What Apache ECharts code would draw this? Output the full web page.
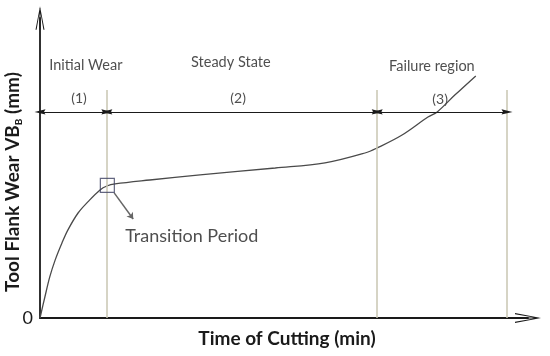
<!DOCTYPE html>
<html>
<head>
<meta charset="utf-8">
<script src="https://cdn.jsdelivr.net/npm/echarts@6/dist/echarts.min.js"></script>
<style>
html,body{margin:0;padding:0;background:#fff;}
#chart{width:550px;height:356px;}
</style>
</head>
<body>
<div id="chart"></div>
<script>
// ---- data ----
const curveTime = [0, 1.0, 2.0, 3.1, 4.5, 5.7, 7.8, 9.8, 12.3, 13.7, 15.4, 22.5, 32.8, 48.2, 58.4, 66.6, 69.1, 74.2, 79.5, 81.4, 85.0, 89.3];
const curveWear = [0, 7.0, 13.7, 19.3, 25.0, 29.3, 35.0, 38.7, 42.7, 44.0, 44.7, 46.0, 47.7, 50.0, 51.7, 55.0, 56.7, 61.0, 67.0, 68.7, 74.3, 80.7];
const regionBounds = [0, 13.7, 69.1, 95.7];
const boundTop = 76;
const arrowLevel = 68.7;
const regionNames = ['Initial Wear', 'Steady State', 'Failure region'];
const regionNameX = [9.4, 39.1, 80.3];
const regionNameY = [84.3, 85.3, 84.0];
const regionTags = ['(1)', '(2)', '(3)'];
const regionTagX = [8.0, 40.6, 82.0];
const regionTagY = [73.3, 73.3, 73.0];
const transitionPoint = [13.8, 44.2];
const transitionArrowFrom = [15.2, 41.7];
const transitionArrowTo = [19.1, 33.0];
const transitionLabel = 'Transition Period';
const transitionLabelPos = [31.1, 27.3];
const yTickLabels = ['0'];

const FONT = 'Lato';
const chevron = 'path://M5,0 L10,26 L8.8,26 L5,4 L1.2,26 L0,26 Z M4.4,2 L5.6,2 L5.6,26 L4.4,26 Z';
// slim filled arrowhead, padded to a square box so it keeps its slender shape
const slimArrow = 'path://M5,0 L7.3,10 L5,8.6 L2.7,10 Z M0,10 L0,10 M10,10 L10,10 M0,0 L0,0';

const chart = echarts.init(document.getElementById('chart'), null, {renderer: 'canvas'});

const boundaryLines = regionBounds.slice(1).map(x => [
  {coord: [x, 0]}, {coord: [x, boundTop]}
]);
const arrowLines = regionBounds.slice(0, -1).map((x, i) => [
  {coord: [x, arrowLevel]}, {coord: [regionBounds[i + 1], arrowLevel]}
]);

const textPoints = [];
regionNames.forEach((t, i) => textPoints.push({value: [regionNameX[i], regionNameY[i]], name: t, label: {fontSize: 14.5}}));
regionTags.forEach((t, i) => textPoints.push({value: [regionTagX[i], regionTagY[i]], name: t, label: {fontSize: 14}}));
textPoints.push({value: transitionLabelPos, name: transitionLabel, label: {fontSize: 18}});

chart.setOption({
  animation: false,
  backgroundColor: '#fff',
  grid: {left: 40, right: 22, top: 18, bottom: 38, containLabel: false, outerBoundsMode: 'none'},
  xAxis: {
    type: 'value', min: 0, max: 100,
    name: 'Time of Cutting (min)', nameLocation: 'middle', nameGap: 11, nameMoveOverlap: false,
    nameTextStyle: {fontFamily: FONT, fontWeight: 'bold', fontSize: 19, color: '#1a1a1a', padding: [0, 0, 0, 6]},
    axisLine: {show: true, symbol: ['none', chevron], symbolSize: [10, 27], lineStyle: {color: '#1a1a1a', width: 1.8}},
    axisTick: {show: false}, axisLabel: {show: false}, splitLine: {show: false}
  },
  yAxis: {
    type: 'value', min: 0, max: 100, interval: 100,
    name: '{n|Tool Flank Wear VB}{s|B}{n| (mm)}', nameLocation: 'middle', nameGap: 16, nameRotate: 90,
    nameMoveOverlap: false,
    nameTextStyle: {
      padding: [0, 28, 0, 0],
      rich: {
        n: {fontFamily: FONT, fontWeight: 'bold', fontSize: 19, color: '#1a1a1a', lineHeight: 22},
        s: {fontFamily: FONT, fontWeight: 'bold', fontSize: 10, color: '#1a1a1a', lineHeight: 14, verticalAlign: 'bottom'}
      }
    },
    axisLine: {show: true, symbol: ['none', chevron], symbolSize: [9, 26], lineStyle: {color: '#1a1a1a', width: 1.8}},
    axisTick: {show: false},
    axisLabel: {
      show: true, fontFamily: FONT, fontSize: 18, color: '#1a1a1a', margin: 7, padding: [14, 0, 0, 0],
      formatter: v => (v === 0 ? yTickLabels[0] : '')
    },
    splitLine: {show: false}
  },
  series: [
    {
      type: 'line', name: 'wear', silent: true,
      data: curveTime.map((t, i) => [t, curveWear[i]]),
      smooth: 0.35, showSymbol: false,
      lineStyle: {color: '#4a4a4a', width: 1.3},
      z: 3
    },
    {
      type: 'scatter', name: 'annotations', silent: true,
      data: textPoints,
      symbolSize: 1,
      itemStyle: {color: 'rgba(0,0,0,0)'},
      label: {
        show: true, position: 'inside', fontFamily: FONT, color: '#222',
        formatter: p => p.data.name
      },
      labelLayout: {hideOverlap: false},
      markLine: {
        silent: true, symbol: ['none', 'none'],
        label: {show: false},
        lineStyle: {color: '#c9c6b2', width: 1.5, type: 'solid'},
        data: boundaryLines
      },
      z: 2
    },
    {
      type: 'scatter', name: 'arrows', silent: true, data: [],
      markLine: {
        silent: true, symbol: [slimArrow, slimArrow], symbolSize: 11,
        label: {show: false},
        lineStyle: {color: '#1a1a1a', width: 1, type: 'solid'},
        itemStyle: {color: '#1a1a1a'},
        data: arrowLines
      },
      z: 4
    },
    {
      type: 'scatter', name: 'transition', silent: true,
      data: [transitionPoint],
      symbol: 'rect', symbolSize: 14,
      itemStyle: {color: 'rgba(0,0,0,0)', borderColor: '#3c4060', borderWidth: 1.2},
      markLine: {
        silent: true, symbol: ['none', 'arrow'], symbolSize: 6,
        label: {show: false},
        lineStyle: {color: '#666', width: 1.5, type: 'solid'},
        data: [[{coord: transitionArrowFrom}, {coord: transitionArrowTo}]]
      },
      z: 5
    }
  ]
});
</script>
</body>
</html>
